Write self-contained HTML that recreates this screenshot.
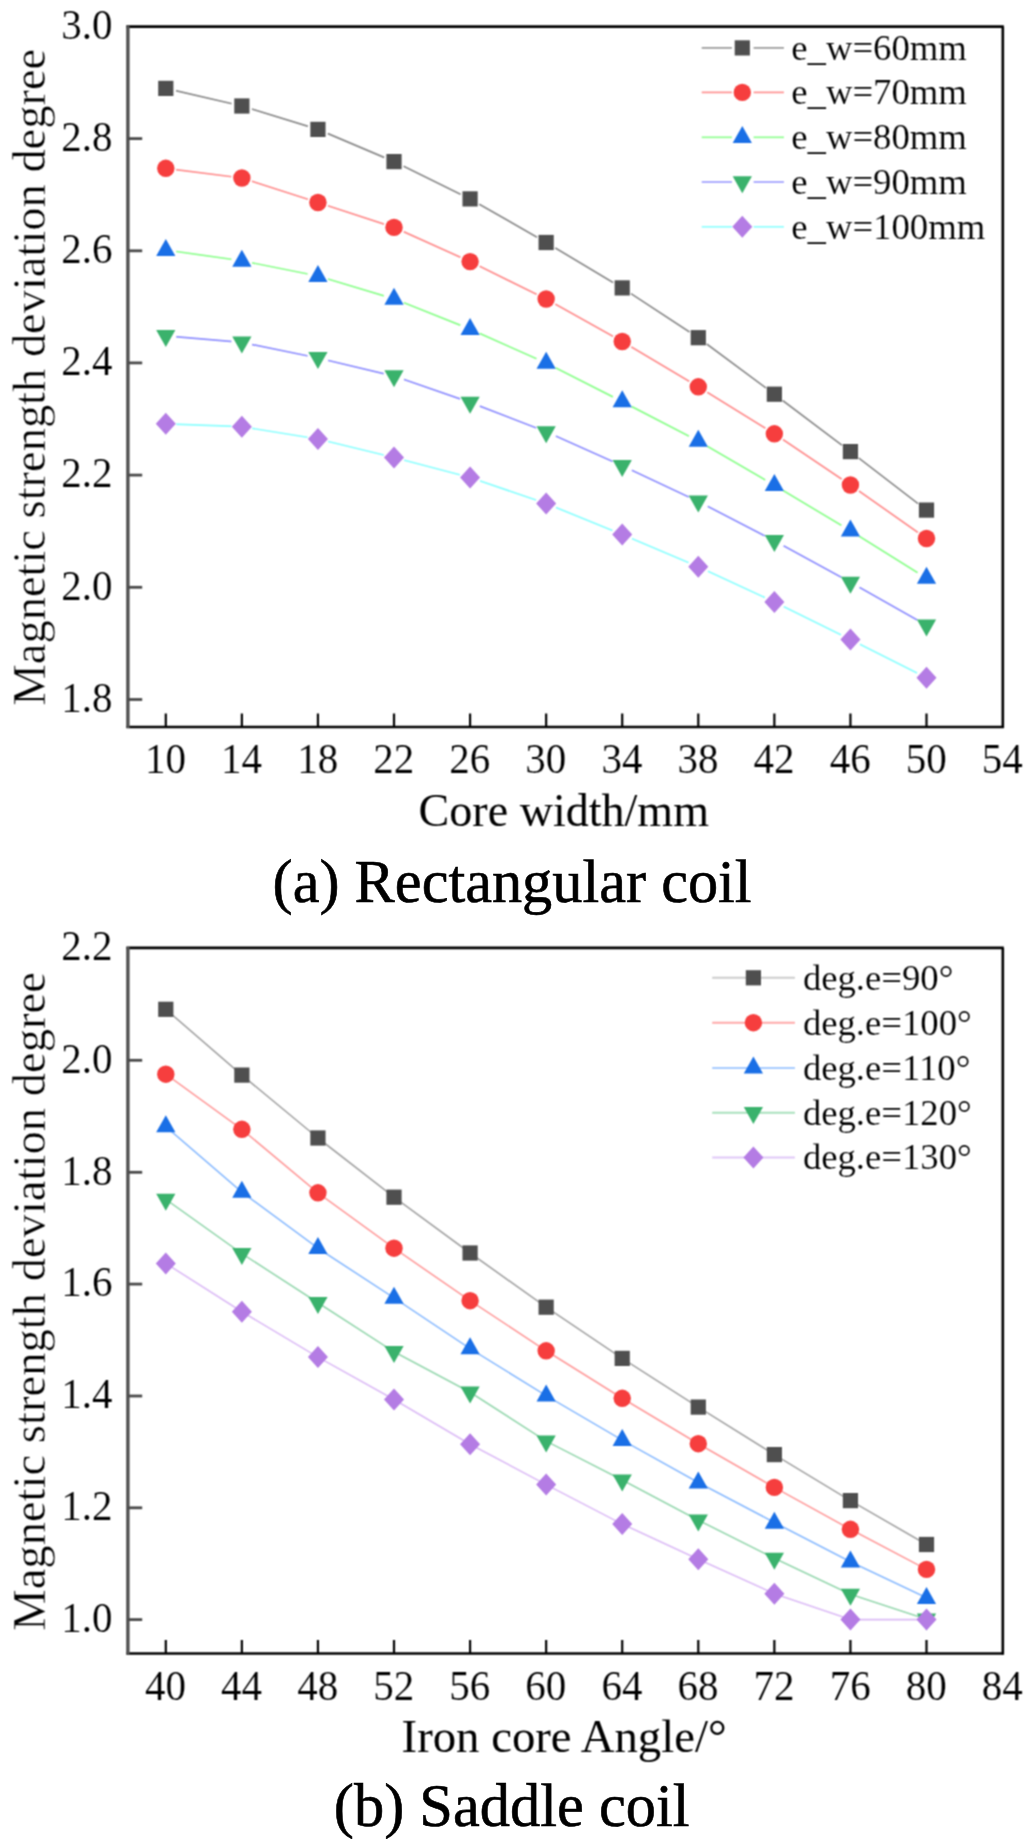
<!DOCTYPE html>
<html><head><meta charset="utf-8"><title>Magnetic strength deviation degree</title>
<style>
html,body{margin:0;padding:0;background:#fff;width:1025px;height:1839px;overflow:hidden;}
svg{display:block;}
text{font-family:"Liberation Serif", serif;}
.tk{stroke:#fff;stroke-width:0.15px;paint-order:fill stroke;}
.yt{stroke:#fff;stroke-width:0.45px;paint-order:fill stroke;}
.cap{stroke:#000;stroke-width:0.6px;}
</style></head><body>
<svg width="1025" height="1839" viewBox="0 0 1025 1839" font-family='"Liberation Serif", serif' fill="#000">
<defs><filter id="bl" x="0" y="0" width="1025" height="1839" filterUnits="userSpaceOnUse" color-interpolation-filters="sRGB"><feConvolveMatrix order="3" kernelMatrix="1 2 1 2 4 2 1 2 1" divisor="16" edgeMode="duplicate"/></filter></defs>
<rect width="1025" height="1839" fill="#fff"/>
<g filter="url(#bl)">
<mask id="ma0" maskUnits="userSpaceOnUse" x="0" y="0" width="1025" height="1839"><rect x="0" y="0" width="1025" height="1839" fill="#fff"/>
<circle cx="165.80" cy="88.40" r="10.6" fill="#000"/>
<circle cx="241.87" cy="106.00" r="10.6" fill="#000"/>
<circle cx="317.94" cy="129.40" r="10.6" fill="#000"/>
<circle cx="394.01" cy="161.60" r="10.6" fill="#000"/>
<circle cx="470.08" cy="198.90" r="10.6" fill="#000"/>
<circle cx="546.15" cy="242.50" r="10.6" fill="#000"/>
<circle cx="622.22" cy="287.90" r="10.6" fill="#000"/>
<circle cx="698.29" cy="337.70" r="10.6" fill="#000"/>
<circle cx="774.36" cy="394.20" r="10.6" fill="#000"/>
<circle cx="850.43" cy="451.60" r="10.6" fill="#000"/>
<circle cx="926.50" cy="510.10" r="10.6" fill="#000"/>
</mask>
<mask id="ma1" maskUnits="userSpaceOnUse" x="0" y="0" width="1025" height="1839"><rect x="0" y="0" width="1025" height="1839" fill="#fff"/>
<circle cx="165.80" cy="168.30" r="10.6" fill="#000"/>
<circle cx="241.87" cy="178.00" r="10.6" fill="#000"/>
<circle cx="317.94" cy="202.50" r="10.6" fill="#000"/>
<circle cx="394.01" cy="227.40" r="10.6" fill="#000"/>
<circle cx="470.08" cy="261.60" r="10.6" fill="#000"/>
<circle cx="546.15" cy="299.00" r="10.6" fill="#000"/>
<circle cx="622.22" cy="341.50" r="10.6" fill="#000"/>
<circle cx="698.29" cy="386.80" r="10.6" fill="#000"/>
<circle cx="774.36" cy="433.80" r="10.6" fill="#000"/>
<circle cx="850.43" cy="485.00" r="10.6" fill="#000"/>
<circle cx="926.50" cy="538.50" r="10.6" fill="#000"/>
</mask>
<mask id="ma2" maskUnits="userSpaceOnUse" x="0" y="0" width="1025" height="1839"><rect x="0" y="0" width="1025" height="1839" fill="#fff"/>
<circle cx="165.80" cy="250.03" r="10.6" fill="#000"/>
<circle cx="241.87" cy="260.77" r="10.6" fill="#000"/>
<circle cx="317.94" cy="276.03" r="10.6" fill="#000"/>
<circle cx="394.01" cy="298.83" r="10.6" fill="#000"/>
<circle cx="470.08" cy="329.13" r="10.6" fill="#000"/>
<circle cx="546.15" cy="363.03" r="10.6" fill="#000"/>
<circle cx="622.22" cy="401.63" r="10.6" fill="#000"/>
<circle cx="698.29" cy="441.07" r="10.6" fill="#000"/>
<circle cx="774.36" cy="485.23" r="10.6" fill="#000"/>
<circle cx="850.43" cy="530.83" r="10.6" fill="#000"/>
<circle cx="926.50" cy="578.23" r="10.6" fill="#000"/>
</mask>
<mask id="ma3" maskUnits="userSpaceOnUse" x="0" y="0" width="1025" height="1839"><rect x="0" y="0" width="1025" height="1839" fill="#fff"/>
<circle cx="165.80" cy="335.87" r="10.6" fill="#000"/>
<circle cx="241.87" cy="342.43" r="10.6" fill="#000"/>
<circle cx="317.94" cy="357.97" r="10.6" fill="#000"/>
<circle cx="394.01" cy="376.07" r="10.6" fill="#000"/>
<circle cx="470.08" cy="402.37" r="10.6" fill="#000"/>
<circle cx="546.15" cy="431.77" r="10.6" fill="#000"/>
<circle cx="622.22" cy="465.67" r="10.6" fill="#000"/>
<circle cx="698.29" cy="501.47" r="10.6" fill="#000"/>
<circle cx="774.36" cy="540.77" r="10.6" fill="#000"/>
<circle cx="850.43" cy="582.37" r="10.6" fill="#000"/>
<circle cx="926.50" cy="625.17" r="10.6" fill="#000"/>
</mask>
<mask id="ma4" maskUnits="userSpaceOnUse" x="0" y="0" width="1025" height="1839"><rect x="0" y="0" width="1025" height="1839" fill="#fff"/>
<circle cx="165.80" cy="423.80" r="10.6" fill="#000"/>
<circle cx="241.87" cy="426.70" r="10.6" fill="#000"/>
<circle cx="317.94" cy="439.00" r="10.6" fill="#000"/>
<circle cx="394.01" cy="457.50" r="10.6" fill="#000"/>
<circle cx="470.08" cy="477.50" r="10.6" fill="#000"/>
<circle cx="546.15" cy="503.50" r="10.6" fill="#000"/>
<circle cx="622.22" cy="534.50" r="10.6" fill="#000"/>
<circle cx="698.29" cy="566.70" r="10.6" fill="#000"/>
<circle cx="774.36" cy="601.90" r="10.6" fill="#000"/>
<circle cx="850.43" cy="639.60" r="10.6" fill="#000"/>
<circle cx="926.50" cy="677.70" r="10.6" fill="#000"/>
</mask>
<path d="M165.80,88.40 L241.87,106.00 L317.94,129.40 L394.01,161.60 L470.08,198.90 L546.15,242.50 L622.22,287.90 L698.29,337.70 L774.36,394.20 L850.43,451.60 L926.50,510.10" fill="none" stroke="#8c8c8c" stroke-width="1.7" stroke-linejoin="round" mask="url(#ma0)"/>
<path d="M165.80,168.30 L241.87,178.00 L317.94,202.50 L394.01,227.40 L470.08,261.60 L546.15,299.00 L622.22,341.50 L698.29,386.80 L774.36,433.80 L850.43,485.00 L926.50,538.50" fill="none" stroke="#ff8f8f" stroke-width="1.7" stroke-linejoin="round" mask="url(#ma1)"/>
<path d="M165.80,250.03 L241.87,260.77 L317.94,276.03 L394.01,298.83 L470.08,329.13 L546.15,363.03 L622.22,401.63 L698.29,441.07 L774.36,485.23 L850.43,530.83 L926.50,578.23" fill="none" stroke="#8cff8c" stroke-width="1.7" stroke-linejoin="round" mask="url(#ma2)"/>
<path d="M165.80,335.87 L241.87,342.43 L317.94,357.97 L394.01,376.07 L470.08,402.37 L546.15,431.77 L622.22,465.67 L698.29,501.47 L774.36,540.77 L850.43,582.37 L926.50,625.17" fill="none" stroke="#9090ff" stroke-width="1.7" stroke-linejoin="round" mask="url(#ma3)"/>
<path d="M165.80,423.80 L241.87,426.70 L317.94,439.00 L394.01,457.50 L470.08,477.50 L546.15,503.50 L622.22,534.50 L698.29,566.70 L774.36,601.90 L850.43,639.60 L926.50,677.70" fill="none" stroke="#8cffff" stroke-width="1.7" stroke-linejoin="round" mask="url(#ma4)"/>
<rect x="158.20" y="80.80" width="15.20" height="15.20" fill="#4f4f4f"/>
<rect x="234.27" y="98.40" width="15.20" height="15.20" fill="#4f4f4f"/>
<rect x="310.34" y="121.80" width="15.20" height="15.20" fill="#4f4f4f"/>
<rect x="386.41" y="154.00" width="15.20" height="15.20" fill="#4f4f4f"/>
<rect x="462.48" y="191.30" width="15.20" height="15.20" fill="#4f4f4f"/>
<rect x="538.55" y="234.90" width="15.20" height="15.20" fill="#4f4f4f"/>
<rect x="614.62" y="280.30" width="15.20" height="15.20" fill="#4f4f4f"/>
<rect x="690.69" y="330.10" width="15.20" height="15.20" fill="#4f4f4f"/>
<rect x="766.76" y="386.60" width="15.20" height="15.20" fill="#4f4f4f"/>
<rect x="842.83" y="444.00" width="15.20" height="15.20" fill="#4f4f4f"/>
<rect x="918.90" y="502.50" width="15.20" height="15.20" fill="#4f4f4f"/>
<circle cx="165.80" cy="168.30" r="8.70" fill="#f63e3e"/>
<circle cx="241.87" cy="178.00" r="8.70" fill="#f63e3e"/>
<circle cx="317.94" cy="202.50" r="8.70" fill="#f63e3e"/>
<circle cx="394.01" cy="227.40" r="8.70" fill="#f63e3e"/>
<circle cx="470.08" cy="261.60" r="8.70" fill="#f63e3e"/>
<circle cx="546.15" cy="299.00" r="8.70" fill="#f63e3e"/>
<circle cx="622.22" cy="341.50" r="8.70" fill="#f63e3e"/>
<circle cx="698.29" cy="386.80" r="8.70" fill="#f63e3e"/>
<circle cx="774.36" cy="433.80" r="8.70" fill="#f63e3e"/>
<circle cx="850.43" cy="485.00" r="8.70" fill="#f63e3e"/>
<circle cx="926.50" cy="538.50" r="8.70" fill="#f63e3e"/>
<path d="M165.80,239.10 L175.40,256.10 L156.20,256.10 Z" fill="#1a6fe6"/>
<path d="M241.87,249.70 L251.47,266.70 L232.27,266.70 Z" fill="#1a6fe6"/>
<path d="M317.94,264.90 L327.54,281.90 L308.34,281.90 Z" fill="#1a6fe6"/>
<path d="M394.01,287.70 L403.61,304.70 L384.41,304.70 Z" fill="#1a6fe6"/>
<path d="M470.08,318.00 L479.68,335.00 L460.48,335.00 Z" fill="#1a6fe6"/>
<path d="M546.15,351.70 L555.75,368.70 L536.55,368.70 Z" fill="#1a6fe6"/>
<path d="M622.22,390.30 L631.82,407.30 L612.62,407.30 Z" fill="#1a6fe6"/>
<path d="M698.29,429.80 L707.89,446.80 L688.69,446.80 Z" fill="#1a6fe6"/>
<path d="M774.36,474.10 L783.96,491.10 L764.76,491.10 Z" fill="#1a6fe6"/>
<path d="M850.43,519.50 L860.03,536.50 L840.83,536.50 Z" fill="#1a6fe6"/>
<path d="M926.50,566.70 L936.10,583.70 L916.90,583.70 Z" fill="#1a6fe6"/>
<path d="M156.20,330.10 L175.40,330.10 L165.80,347.10 Z" fill="#3ab26c"/>
<path d="M232.27,336.60 L251.47,336.60 L241.87,353.60 Z" fill="#3ab26c"/>
<path d="M308.34,352.10 L327.54,352.10 L317.94,369.10 Z" fill="#3ab26c"/>
<path d="M384.41,370.20 L403.61,370.20 L394.01,387.20 Z" fill="#3ab26c"/>
<path d="M460.48,396.70 L479.68,396.70 L470.08,413.70 Z" fill="#3ab26c"/>
<path d="M536.55,426.20 L555.75,426.20 L546.15,443.20 Z" fill="#3ab26c"/>
<path d="M612.62,459.90 L631.82,459.90 L622.22,476.90 Z" fill="#3ab26c"/>
<path d="M688.69,495.60 L707.89,495.60 L698.29,512.60 Z" fill="#3ab26c"/>
<path d="M764.76,535.10 L783.96,535.10 L774.36,552.10 Z" fill="#3ab26c"/>
<path d="M840.83,576.70 L860.03,576.70 L850.43,593.70 Z" fill="#3ab26c"/>
<path d="M916.90,619.40 L936.10,619.40 L926.50,636.40 Z" fill="#3ab26c"/>
<path d="M165.80,412.80 L175.80,423.80 L165.80,434.80 L155.80,423.80 Z" fill="#b47ce4"/>
<path d="M241.87,415.70 L251.87,426.70 L241.87,437.70 L231.87,426.70 Z" fill="#b47ce4"/>
<path d="M317.94,428.00 L327.94,439.00 L317.94,450.00 L307.94,439.00 Z" fill="#b47ce4"/>
<path d="M394.01,446.50 L404.01,457.50 L394.01,468.50 L384.01,457.50 Z" fill="#b47ce4"/>
<path d="M470.08,466.50 L480.08,477.50 L470.08,488.50 L460.08,477.50 Z" fill="#b47ce4"/>
<path d="M546.15,492.50 L556.15,503.50 L546.15,514.50 L536.15,503.50 Z" fill="#b47ce4"/>
<path d="M622.22,523.50 L632.22,534.50 L622.22,545.50 L612.22,534.50 Z" fill="#b47ce4"/>
<path d="M698.29,555.70 L708.29,566.70 L698.29,577.70 L688.29,566.70 Z" fill="#b47ce4"/>
<path d="M774.36,590.90 L784.36,601.90 L774.36,612.90 L764.36,601.90 Z" fill="#b47ce4"/>
<path d="M850.43,628.60 L860.43,639.60 L850.43,650.60 L840.43,639.60 Z" fill="#b47ce4"/>
<path d="M926.50,666.70 L936.50,677.70 L926.50,688.70 L916.50,677.70 Z" fill="#b47ce4"/>
<line x1="126.40" y1="26.60" x2="1003.80" y2="26.60" stroke="#000" stroke-width="2.6"/>
<line x1="1002.80" y1="26.60" x2="1002.80" y2="728.00" stroke="#000" stroke-width="2.6"/>
<line x1="126.40" y1="727.00" x2="1003.80" y2="727.00" stroke="#000" stroke-width="2.6"/>
<line x1="127.90" y1="25.60" x2="127.90" y2="728.00" stroke="#505050" stroke-width="3.4"/>
<text transform="translate(112.6,38.50) scale(0.965,1)" text-anchor="end" font-size="42.5" class="tk">3.0</text>
<line x1="127.90" y1="138.60" x2="142.20" y2="138.60" stroke="#4a4a4a" stroke-width="2.8"/>
<text transform="translate(112.6,150.80) scale(0.965,1)" text-anchor="end" font-size="42.5" class="tk">2.8</text>
<line x1="127.90" y1="250.80" x2="142.20" y2="250.80" stroke="#4a4a4a" stroke-width="2.8"/>
<text transform="translate(112.6,263.00) scale(0.965,1)" text-anchor="end" font-size="42.5" class="tk">2.6</text>
<line x1="127.90" y1="362.90" x2="142.20" y2="362.90" stroke="#4a4a4a" stroke-width="2.8"/>
<text transform="translate(112.6,375.10) scale(0.965,1)" text-anchor="end" font-size="42.5" class="tk">2.4</text>
<line x1="127.90" y1="475.10" x2="142.20" y2="475.10" stroke="#4a4a4a" stroke-width="2.8"/>
<text transform="translate(112.6,487.30) scale(0.965,1)" text-anchor="end" font-size="42.5" class="tk">2.2</text>
<line x1="127.90" y1="587.30" x2="142.20" y2="587.30" stroke="#4a4a4a" stroke-width="2.8"/>
<text transform="translate(112.6,599.50) scale(0.965,1)" text-anchor="end" font-size="42.5" class="tk">2.0</text>
<line x1="127.90" y1="699.50" x2="142.20" y2="699.50" stroke="#4a4a4a" stroke-width="2.8"/>
<text transform="translate(112.6,711.70) scale(0.965,1)" text-anchor="end" font-size="42.5" class="tk">1.8</text>
<line x1="165.80" y1="727.00" x2="165.80" y2="713.50" stroke="#000" stroke-width="2.2"/>
<text transform="translate(165.50,773.40) scale(0.965,1)" text-anchor="middle" font-size="42.5" class="tk">10</text>
<line x1="241.87" y1="727.00" x2="241.87" y2="713.50" stroke="#000" stroke-width="2.2"/>
<text transform="translate(241.57,773.40) scale(0.965,1)" text-anchor="middle" font-size="42.5" class="tk">14</text>
<line x1="317.94" y1="727.00" x2="317.94" y2="713.50" stroke="#000" stroke-width="2.2"/>
<text transform="translate(317.64,773.40) scale(0.965,1)" text-anchor="middle" font-size="42.5" class="tk">18</text>
<line x1="394.01" y1="727.00" x2="394.01" y2="713.50" stroke="#000" stroke-width="2.2"/>
<text transform="translate(393.71,773.40) scale(0.965,1)" text-anchor="middle" font-size="42.5" class="tk">22</text>
<line x1="470.08" y1="727.00" x2="470.08" y2="713.50" stroke="#000" stroke-width="2.2"/>
<text transform="translate(469.78,773.40) scale(0.965,1)" text-anchor="middle" font-size="42.5" class="tk">26</text>
<line x1="546.15" y1="727.00" x2="546.15" y2="713.50" stroke="#000" stroke-width="2.2"/>
<text transform="translate(545.85,773.40) scale(0.965,1)" text-anchor="middle" font-size="42.5" class="tk">30</text>
<line x1="622.22" y1="727.00" x2="622.22" y2="713.50" stroke="#000" stroke-width="2.2"/>
<text transform="translate(621.92,773.40) scale(0.965,1)" text-anchor="middle" font-size="42.5" class="tk">34</text>
<line x1="698.29" y1="727.00" x2="698.29" y2="713.50" stroke="#000" stroke-width="2.2"/>
<text transform="translate(697.99,773.40) scale(0.965,1)" text-anchor="middle" font-size="42.5" class="tk">38</text>
<line x1="774.36" y1="727.00" x2="774.36" y2="713.50" stroke="#000" stroke-width="2.2"/>
<text transform="translate(774.06,773.40) scale(0.965,1)" text-anchor="middle" font-size="42.5" class="tk">42</text>
<line x1="850.43" y1="727.00" x2="850.43" y2="713.50" stroke="#000" stroke-width="2.2"/>
<text transform="translate(850.13,773.40) scale(0.965,1)" text-anchor="middle" font-size="42.5" class="tk">46</text>
<line x1="926.50" y1="727.00" x2="926.50" y2="713.50" stroke="#000" stroke-width="2.2"/>
<text transform="translate(926.20,773.40) scale(0.965,1)" text-anchor="middle" font-size="42.5" class="tk">50</text>
<text transform="translate(1002.27,773.40) scale(0.965,1)" text-anchor="middle" font-size="42.5" class="tk">54</text>
<line x1="701.70" y1="47.90" x2="731.90" y2="47.90" stroke="#9a9a9a" stroke-width="1.7"/>
<line x1="753.60" y1="47.90" x2="783.90" y2="47.90" stroke="#9a9a9a" stroke-width="1.7"/>
<rect x="734.70" y="40.30" width="15.20" height="15.20" fill="#4f4f4f"/>
<text x="791.30" y="59.70" font-size="36.7" class="tk">e_w=60mm</text>
<line x1="701.70" y1="92.40" x2="731.90" y2="92.40" stroke="#ff9090" stroke-width="1.7"/>
<line x1="753.60" y1="92.40" x2="783.90" y2="92.40" stroke="#ff9090" stroke-width="1.7"/>
<circle cx="742.30" cy="92.40" r="8.70" fill="#f63e3e"/>
<text x="791.30" y="104.20" font-size="36.7" class="tk">e_w=70mm</text>
<line x1="701.70" y1="137.30" x2="731.90" y2="137.30" stroke="#90ff90" stroke-width="1.7"/>
<line x1="753.60" y1="137.30" x2="783.90" y2="137.30" stroke="#90ff90" stroke-width="1.7"/>
<path d="M742.30,125.97 L751.90,142.97 L732.70,142.97 Z" fill="#1a6fe6"/>
<text x="791.30" y="149.10" font-size="36.7" class="tk">e_w=80mm</text>
<line x1="701.70" y1="182.00" x2="731.90" y2="182.00" stroke="#a0a0ff" stroke-width="1.7"/>
<line x1="753.60" y1="182.00" x2="783.90" y2="182.00" stroke="#a0a0ff" stroke-width="1.7"/>
<path d="M732.70,176.33 L751.90,176.33 L742.30,193.33 Z" fill="#3ab26c"/>
<text x="791.30" y="193.80" font-size="36.7" class="tk">e_w=90mm</text>
<line x1="701.70" y1="226.80" x2="731.90" y2="226.80" stroke="#90ffff" stroke-width="1.7"/>
<line x1="753.60" y1="226.80" x2="783.90" y2="226.80" stroke="#90ffff" stroke-width="1.7"/>
<path d="M742.30,215.80 L752.30,226.80 L742.30,237.80 L732.30,226.80 Z" fill="#b47ce4"/>
<text x="791.30" y="238.60" font-size="36.7" class="tk">e_w=100mm</text>
<text x="418.60" y="826.20" font-size="46.3" textLength="290.40" lengthAdjust="spacingAndGlyphs">Core width/mm</text>
<text transform="translate(45.3,705.50) rotate(-90)" font-size="46.4" class="yt" textLength="656.70" lengthAdjust="spacingAndGlyphs">Magnetic strength deviation degree</text>
<path d="M165.80,1009.30 L241.87,1075.10 L317.94,1138.00 L394.01,1197.20 L470.08,1253.00 L546.15,1307.20 L622.22,1358.40 L698.29,1407.10 L774.36,1454.60 L850.43,1500.60 L926.50,1544.50" fill="none" stroke="#a4a4a4" stroke-width="1.6" stroke-linejoin="round"/>
<path d="M165.80,1074.20 L241.87,1129.30 L317.94,1192.80 L394.01,1248.20 L470.08,1300.70 L546.15,1350.80 L622.22,1398.30 L698.29,1443.70 L774.36,1487.40 L850.43,1529.30 L926.50,1569.40" fill="none" stroke="#ff9c9c" stroke-width="1.6" stroke-linejoin="round"/>
<path d="M165.80,1126.53 L241.87,1192.13 L317.94,1248.23 L394.01,1297.93 L470.08,1348.63 L546.15,1395.63 L622.22,1440.13 L698.29,1482.57 L774.36,1522.43 L850.43,1561.73 L926.50,1597.83" fill="none" stroke="#8cbcff" stroke-width="1.6" stroke-linejoin="round"/>
<path d="M165.80,1199.43 L241.87,1253.57 L317.94,1302.73 L394.01,1351.83 L470.08,1392.27 L546.15,1441.13 L622.22,1480.07 L698.29,1520.17 L774.36,1558.27 L850.43,1594.27 L926.50,1619.17" fill="none" stroke="#98d8b0" stroke-width="1.6" stroke-linejoin="round"/>
<path d="M165.80,1263.40 L241.87,1311.70 L317.94,1357.10 L394.01,1399.50 L470.08,1444.20 L546.15,1484.60 L622.22,1524.10 L698.29,1559.30 L774.36,1593.70 L850.43,1619.60 L926.50,1619.60" fill="none" stroke="#dcbcf6" stroke-width="1.6" stroke-linejoin="round"/>
<rect x="158.20" y="1001.70" width="15.20" height="15.20" fill="#4f4f4f"/>
<rect x="234.27" y="1067.50" width="15.20" height="15.20" fill="#4f4f4f"/>
<rect x="310.34" y="1130.40" width="15.20" height="15.20" fill="#4f4f4f"/>
<rect x="386.41" y="1189.60" width="15.20" height="15.20" fill="#4f4f4f"/>
<rect x="462.48" y="1245.40" width="15.20" height="15.20" fill="#4f4f4f"/>
<rect x="538.55" y="1299.60" width="15.20" height="15.20" fill="#4f4f4f"/>
<rect x="614.62" y="1350.80" width="15.20" height="15.20" fill="#4f4f4f"/>
<rect x="690.69" y="1399.50" width="15.20" height="15.20" fill="#4f4f4f"/>
<rect x="766.76" y="1447.00" width="15.20" height="15.20" fill="#4f4f4f"/>
<rect x="842.83" y="1493.00" width="15.20" height="15.20" fill="#4f4f4f"/>
<rect x="918.90" y="1536.90" width="15.20" height="15.20" fill="#4f4f4f"/>
<circle cx="165.80" cy="1074.20" r="8.70" fill="#f63e3e"/>
<circle cx="241.87" cy="1129.30" r="8.70" fill="#f63e3e"/>
<circle cx="317.94" cy="1192.80" r="8.70" fill="#f63e3e"/>
<circle cx="394.01" cy="1248.20" r="8.70" fill="#f63e3e"/>
<circle cx="470.08" cy="1300.70" r="8.70" fill="#f63e3e"/>
<circle cx="546.15" cy="1350.80" r="8.70" fill="#f63e3e"/>
<circle cx="622.22" cy="1398.30" r="8.70" fill="#f63e3e"/>
<circle cx="698.29" cy="1443.70" r="8.70" fill="#f63e3e"/>
<circle cx="774.36" cy="1487.40" r="8.70" fill="#f63e3e"/>
<circle cx="850.43" cy="1529.30" r="8.70" fill="#f63e3e"/>
<circle cx="926.50" cy="1569.40" r="8.70" fill="#f63e3e"/>
<path d="M165.80,1115.20 L175.40,1132.20 L156.20,1132.20 Z" fill="#1a6fe6"/>
<path d="M241.87,1180.80 L251.47,1197.80 L232.27,1197.80 Z" fill="#1a6fe6"/>
<path d="M317.94,1237.10 L327.54,1254.10 L308.34,1254.10 Z" fill="#1a6fe6"/>
<path d="M394.01,1286.80 L403.61,1303.80 L384.41,1303.80 Z" fill="#1a6fe6"/>
<path d="M470.08,1337.30 L479.68,1354.30 L460.48,1354.30 Z" fill="#1a6fe6"/>
<path d="M546.15,1384.50 L555.75,1401.50 L536.55,1401.50 Z" fill="#1a6fe6"/>
<path d="M622.22,1429.00 L631.82,1446.00 L612.62,1446.00 Z" fill="#1a6fe6"/>
<path d="M698.29,1471.50 L707.89,1488.50 L688.69,1488.50 Z" fill="#1a6fe6"/>
<path d="M774.36,1511.70 L783.96,1528.70 L764.76,1528.70 Z" fill="#1a6fe6"/>
<path d="M850.43,1550.60 L860.03,1567.60 L840.83,1567.60 Z" fill="#1a6fe6"/>
<path d="M926.50,1586.90 L936.10,1603.90 L916.90,1603.90 Z" fill="#1a6fe6"/>
<path d="M156.20,1193.80 L175.40,1193.80 L165.80,1210.80 Z" fill="#3ab26c"/>
<path d="M232.27,1247.90 L251.47,1247.90 L241.87,1264.90 Z" fill="#3ab26c"/>
<path d="M308.34,1297.10 L327.54,1297.10 L317.94,1314.10 Z" fill="#3ab26c"/>
<path d="M384.41,1346.00 L403.61,1346.00 L394.01,1363.00 Z" fill="#3ab26c"/>
<path d="M460.48,1386.60 L479.68,1386.60 L470.08,1403.60 Z" fill="#3ab26c"/>
<path d="M536.55,1435.50 L555.75,1435.50 L546.15,1452.50 Z" fill="#3ab26c"/>
<path d="M612.62,1474.40 L631.82,1474.40 L622.22,1491.40 Z" fill="#3ab26c"/>
<path d="M688.69,1514.50 L707.89,1514.50 L698.29,1531.50 Z" fill="#3ab26c"/>
<path d="M764.76,1552.70 L783.96,1552.70 L774.36,1569.70 Z" fill="#3ab26c"/>
<path d="M840.83,1588.70 L860.03,1588.70 L850.43,1605.70 Z" fill="#3ab26c"/>
<path d="M916.90,1613.50 L936.10,1613.50 L926.50,1630.50 Z" fill="#3ab26c"/>
<path d="M165.80,1252.40 L175.80,1263.40 L165.80,1274.40 L155.80,1263.40 Z" fill="#b47ce4"/>
<path d="M241.87,1300.70 L251.87,1311.70 L241.87,1322.70 L231.87,1311.70 Z" fill="#b47ce4"/>
<path d="M317.94,1346.10 L327.94,1357.10 L317.94,1368.10 L307.94,1357.10 Z" fill="#b47ce4"/>
<path d="M394.01,1388.50 L404.01,1399.50 L394.01,1410.50 L384.01,1399.50 Z" fill="#b47ce4"/>
<path d="M470.08,1433.20 L480.08,1444.20 L470.08,1455.20 L460.08,1444.20 Z" fill="#b47ce4"/>
<path d="M546.15,1473.60 L556.15,1484.60 L546.15,1495.60 L536.15,1484.60 Z" fill="#b47ce4"/>
<path d="M622.22,1513.10 L632.22,1524.10 L622.22,1535.10 L612.22,1524.10 Z" fill="#b47ce4"/>
<path d="M698.29,1548.30 L708.29,1559.30 L698.29,1570.30 L688.29,1559.30 Z" fill="#b47ce4"/>
<path d="M774.36,1582.70 L784.36,1593.70 L774.36,1604.70 L764.36,1593.70 Z" fill="#b47ce4"/>
<path d="M850.43,1608.60 L860.43,1619.60 L850.43,1630.60 L840.43,1619.60 Z" fill="#b47ce4"/>
<path d="M926.50,1608.60 L936.50,1619.60 L926.50,1630.60 L916.50,1619.60 Z" fill="#b47ce4"/>
<line x1="126.40" y1="947.90" x2="1003.80" y2="947.90" stroke="#000" stroke-width="2.6"/>
<line x1="1002.80" y1="947.90" x2="1002.80" y2="1654.50" stroke="#000" stroke-width="2.6"/>
<line x1="126.40" y1="1653.50" x2="1003.80" y2="1653.50" stroke="#000" stroke-width="2.6"/>
<line x1="127.90" y1="946.90" x2="127.90" y2="1654.50" stroke="#505050" stroke-width="3.4"/>
<text transform="translate(112.6,960.10) scale(0.965,1)" text-anchor="end" font-size="42.5" class="tk">2.2</text>
<line x1="127.90" y1="1060.30" x2="142.20" y2="1060.30" stroke="#4a4a4a" stroke-width="2.8"/>
<text transform="translate(112.6,1072.50) scale(0.965,1)" text-anchor="end" font-size="42.5" class="tk">2.0</text>
<line x1="127.90" y1="1172.30" x2="142.20" y2="1172.30" stroke="#4a4a4a" stroke-width="2.8"/>
<text transform="translate(112.6,1184.50) scale(0.965,1)" text-anchor="end" font-size="42.5" class="tk">1.8</text>
<line x1="127.90" y1="1284.10" x2="142.20" y2="1284.10" stroke="#4a4a4a" stroke-width="2.8"/>
<text transform="translate(112.6,1296.30) scale(0.965,1)" text-anchor="end" font-size="42.5" class="tk">1.6</text>
<line x1="127.90" y1="1396.00" x2="142.20" y2="1396.00" stroke="#4a4a4a" stroke-width="2.8"/>
<text transform="translate(112.6,1408.20) scale(0.965,1)" text-anchor="end" font-size="42.5" class="tk">1.4</text>
<line x1="127.90" y1="1507.80" x2="142.20" y2="1507.80" stroke="#4a4a4a" stroke-width="2.8"/>
<text transform="translate(112.6,1520.00) scale(0.965,1)" text-anchor="end" font-size="42.5" class="tk">1.2</text>
<line x1="127.90" y1="1619.60" x2="142.20" y2="1619.60" stroke="#4a4a4a" stroke-width="2.8"/>
<text transform="translate(112.6,1631.80) scale(0.965,1)" text-anchor="end" font-size="42.5" class="tk">1.0</text>
<line x1="165.80" y1="1653.50" x2="165.80" y2="1640.00" stroke="#000" stroke-width="2.2"/>
<text transform="translate(165.50,1700.00) scale(0.965,1)" text-anchor="middle" font-size="42.5" class="tk">40</text>
<line x1="241.87" y1="1653.50" x2="241.87" y2="1640.00" stroke="#000" stroke-width="2.2"/>
<text transform="translate(241.57,1700.00) scale(0.965,1)" text-anchor="middle" font-size="42.5" class="tk">44</text>
<line x1="317.94" y1="1653.50" x2="317.94" y2="1640.00" stroke="#000" stroke-width="2.2"/>
<text transform="translate(317.64,1700.00) scale(0.965,1)" text-anchor="middle" font-size="42.5" class="tk">48</text>
<line x1="394.01" y1="1653.50" x2="394.01" y2="1640.00" stroke="#000" stroke-width="2.2"/>
<text transform="translate(393.71,1700.00) scale(0.965,1)" text-anchor="middle" font-size="42.5" class="tk">52</text>
<line x1="470.08" y1="1653.50" x2="470.08" y2="1640.00" stroke="#000" stroke-width="2.2"/>
<text transform="translate(469.78,1700.00) scale(0.965,1)" text-anchor="middle" font-size="42.5" class="tk">56</text>
<line x1="546.15" y1="1653.50" x2="546.15" y2="1640.00" stroke="#000" stroke-width="2.2"/>
<text transform="translate(545.85,1700.00) scale(0.965,1)" text-anchor="middle" font-size="42.5" class="tk">60</text>
<line x1="622.22" y1="1653.50" x2="622.22" y2="1640.00" stroke="#000" stroke-width="2.2"/>
<text transform="translate(621.92,1700.00) scale(0.965,1)" text-anchor="middle" font-size="42.5" class="tk">64</text>
<line x1="698.29" y1="1653.50" x2="698.29" y2="1640.00" stroke="#000" stroke-width="2.2"/>
<text transform="translate(697.99,1700.00) scale(0.965,1)" text-anchor="middle" font-size="42.5" class="tk">68</text>
<line x1="774.36" y1="1653.50" x2="774.36" y2="1640.00" stroke="#000" stroke-width="2.2"/>
<text transform="translate(774.06,1700.00) scale(0.965,1)" text-anchor="middle" font-size="42.5" class="tk">72</text>
<line x1="850.43" y1="1653.50" x2="850.43" y2="1640.00" stroke="#000" stroke-width="2.2"/>
<text transform="translate(850.13,1700.00) scale(0.965,1)" text-anchor="middle" font-size="42.5" class="tk">76</text>
<line x1="926.50" y1="1653.50" x2="926.50" y2="1640.00" stroke="#000" stroke-width="2.2"/>
<text transform="translate(926.20,1700.00) scale(0.965,1)" text-anchor="middle" font-size="42.5" class="tk">80</text>
<text transform="translate(1002.27,1700.00) scale(0.965,1)" text-anchor="middle" font-size="42.5" class="tk">84</text>
<line x1="712.20" y1="977.80" x2="794.90" y2="977.80" stroke="#cccccc" stroke-width="2"/>
<rect x="745.80" y="970.20" width="15.20" height="15.20" fill="#4f4f4f"/>
<text x="802.90" y="989.60" font-size="36.7" class="tk">deg.e=90°</text>
<line x1="712.20" y1="1022.70" x2="794.90" y2="1022.70" stroke="#ffa8a8" stroke-width="2"/>
<circle cx="753.40" cy="1022.70" r="8.70" fill="#f63e3e"/>
<text x="802.90" y="1034.50" font-size="36.7" class="tk">deg.e=100°</text>
<line x1="712.20" y1="1067.90" x2="794.90" y2="1067.90" stroke="#a8ccff" stroke-width="2"/>
<path d="M753.40,1056.57 L763.00,1073.57 L743.80,1073.57 Z" fill="#1a6fe6"/>
<text x="802.90" y="1079.70" font-size="36.7" class="tk">deg.e=110°</text>
<line x1="712.20" y1="1112.70" x2="794.90" y2="1112.70" stroke="#a8e0bc" stroke-width="2"/>
<path d="M743.80,1107.03 L763.00,1107.03 L753.40,1124.03 Z" fill="#3ab26c"/>
<text x="802.90" y="1124.50" font-size="36.7" class="tk">deg.e=120°</text>
<line x1="712.20" y1="1157.40" x2="794.90" y2="1157.40" stroke="#e0c8f8" stroke-width="2"/>
<path d="M753.40,1146.40 L763.40,1157.40 L753.40,1168.40 L743.40,1157.40 Z" fill="#b47ce4"/>
<text x="802.90" y="1169.20" font-size="36.7" class="tk">deg.e=130°</text>
<text x="401.60" y="1752.10" font-size="46.3" textLength="325.00" lengthAdjust="spacingAndGlyphs">Iron core Angle/°</text>
<text transform="translate(45.3,1630.80) rotate(-90)" font-size="46.4" class="yt" textLength="658.70" lengthAdjust="spacingAndGlyphs">Magnetic strength deviation degree</text>
</g>
<text x="272.60" y="902.10" font-size="60.5" class="cap" textLength="479.00" lengthAdjust="spacingAndGlyphs">(a) Rectangular coil</text>
<text x="333.80" y="1826.30" font-size="60.5" class="cap" textLength="355.80" lengthAdjust="spacingAndGlyphs">(b) Saddle coil</text>
</svg>
</body></html>
